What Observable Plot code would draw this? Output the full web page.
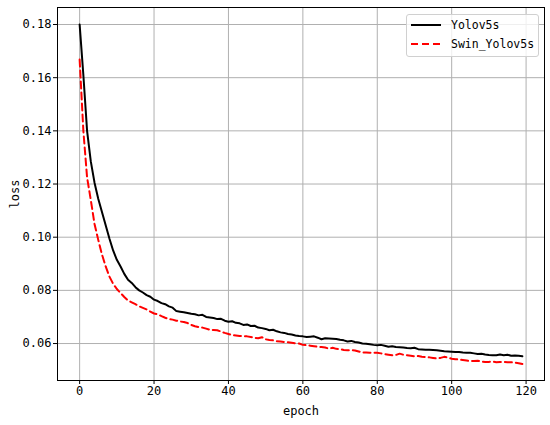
<!DOCTYPE html>
<html>
<head>
<meta charset="utf-8">
<script src="https://cdn.jsdelivr.net/npm/d3@7"></script>
<script src="https://cdn.jsdelivr.net/npm/@observablehq/plot@0.6"></script>
<style>
  body { margin: 0; background: #fff; }
  #wrap { position: relative; width: 550px; height: 425px; font-family: "DejaVu Sans Mono", monospace; }
  #legend { position: absolute; left: 406px; top: 14px; width: 131px; height: 41px; border: 1px solid #d0d0d0; border-radius: 3px; background: rgba(255,255,255,0.8); font-size: 11.5px; }
  .row { position: absolute; left: 4px; height: 18px; display: flex; align-items: center; }
  .row span { margin-left: 10px; color: #000; }
</style>
</head>
<body>
<div id="wrap">
  <div id="chart"></div>
  <div id="legend"></div>
</div>
<script>
const epochs = d3.range(0, 120);
const seriesNames = ["Yolov5s", "Swin_Yolov5s"];
const yolov5s = [
0.1800,0.1610,0.1400,0.1285,0.1205,0.1145,0.1095,0.1045,0.0995,0.0950,
0.0915,0.0890,0.0862,0.0840,0.0828,0.0812,0.0800,0.0792,0.0782,0.0776,
0.0765,0.0760,0.0752,0.0748,0.0740,0.0735,0.0722,0.0720,0.0718,0.0715,
0.0712,0.0710,0.0706,0.0708,0.0700,0.0698,0.0696,0.0692,0.0693,0.0686,
0.0682,0.0684,0.0678,0.0676,0.0670,0.0672,0.0666,0.0667,0.0660,0.0658,
0.0655,0.0650,0.0652,0.0646,0.0642,0.0640,0.0636,0.0634,0.0630,0.0628,
0.0627,0.0625,0.0626,0.0627,0.0622,0.0616,0.0620,0.0619,0.0618,0.0617,
0.0614,0.0612,0.0608,0.0610,0.0606,0.0604,0.0600,0.0599,0.0597,0.0595,
0.0594,0.0595,0.0592,0.0588,0.0590,0.0587,0.0586,0.0585,0.0583,0.0582,
0.0584,0.0579,0.0578,0.0577,0.0577,0.0576,0.0575,0.0573,0.0571,0.0570,
0.0569,0.0568,0.0568,0.0566,0.0565,0.0565,0.0563,0.0561,0.0562,0.0559,
0.0557,0.0556,0.0556,0.0559,0.0556,0.0558,0.0554,0.0555,0.0554,0.0552
];
const swinYolov5s = [
0.1668,0.1400,0.1225,0.1140,0.1050,0.0990,0.0935,0.0890,0.0852,0.0825,
0.0805,0.0790,0.0775,0.0762,0.0755,0.0748,0.0740,0.0734,0.0728,0.0720,
0.0713,0.0710,0.0703,0.0697,0.0692,0.0690,0.0686,0.0683,0.0681,0.0677,
0.0670,0.0665,0.0662,0.0660,0.0656,0.0652,0.0651,0.0650,0.0645,0.0640,
0.0636,0.0632,0.0630,0.0628,0.0628,0.0627,0.0625,0.0621,0.0620,0.0624,
0.0616,0.0613,0.0612,0.0609,0.0608,0.0606,0.0605,0.0603,0.0601,0.0600,
0.0595,0.0594,0.0592,0.0590,0.0588,0.0587,0.0585,0.0581,0.0584,0.0580,
0.0579,0.0576,0.0575,0.0575,0.0574,0.0570,0.0566,0.0566,0.0565,0.0565,
0.0565,0.0563,0.0560,0.0558,0.0556,0.0557,0.0562,0.0558,0.0556,0.0554,
0.0552,0.0553,0.0550,0.0549,0.0548,0.0546,0.0544,0.0546,0.0550,0.0547,
0.0543,0.0541,0.0540,0.0538,0.0536,0.0534,0.0534,0.0535,0.0532,0.0531,
0.0531,0.0532,0.0530,0.0531,0.0531,0.0530,0.0530,0.0528,0.0526,0.0523
];
const xTicks = [0, 20, 40, 60, 80, 100, 120];
const yTicks = [0.06, 0.08, 0.10, 0.12, 0.14, 0.16, 0.18];

const rowsA = epochs.map((e, i) => ({epoch: e, loss: yolov5s[i]}));
const rowsB = epochs.map((e, i) => ({epoch: e, loss: swinYolov5s[i]}));

const chart = Plot.plot({
  width: 550,
  height: 425,
  marginLeft: 57,
  marginRight: 6,
  marginTop: 7,
  marginBottom: 45,
  style: {fontFamily: "'DejaVu Sans Mono', monospace", fontSize: "11.5px", background: "white", color: "black"},
  x: {domain: [-5.95, 124.95]},
  y: {domain: [0.0461, 0.1864]},
  marks: [
    Plot.gridX(xTicks, {stroke: "#b0b0b0", strokeOpacity: 1, strokeWidth: 1}),
    Plot.gridY(yTicks, {stroke: "#b0b0b0", strokeOpacity: 1, strokeWidth: 1}),
    Plot.line(rowsA, {x: "epoch", y: "loss", stroke: "black", strokeWidth: 2}),
    Plot.line(rowsB, {x: "epoch", y: "loss", stroke: "red", strokeWidth: 2, strokeDasharray: "7,4"}),
    Plot.frame({stroke: "black", strokeWidth: 1}),
    Plot.axisX(xTicks, {tickSize: 4, tickPadding: 2, fontSize: 12, label: "epoch", labelAnchor: "center", labelArrow: "none", labelOffset: 34, tickFormat: d => String(d)}),
    Plot.axisY(yTicks, {tickSize: 4, tickPadding: 2, fontSize: 12, label: "loss", labelAnchor: "center", labelArrow: "none", labelOffset: 47, tickFormat: d => d.toFixed(2)})
  ]
});
document.getElementById("chart").appendChild(chart);

const legend = document.getElementById("legend");
const styles = [
  {stroke: "black", dash: null},
  {stroke: "red", dash: "7,4"}
];
seriesNames.forEach((name, i) => {
  const row = document.createElement("div");
  row.className = "row";
  row.style.top = (1 + i * 19) + "px";
  const s = styles[i];
  row.innerHTML = `<svg width="30" height="6"><line x1="0" y1="3" x2="30" y2="3" stroke="${s.stroke}" stroke-width="2" ${s.dash ? `stroke-dasharray="${s.dash}"` : ""}/></svg><span>${name}</span>`;
  legend.appendChild(row);
});
</script>
</body>
</html>
